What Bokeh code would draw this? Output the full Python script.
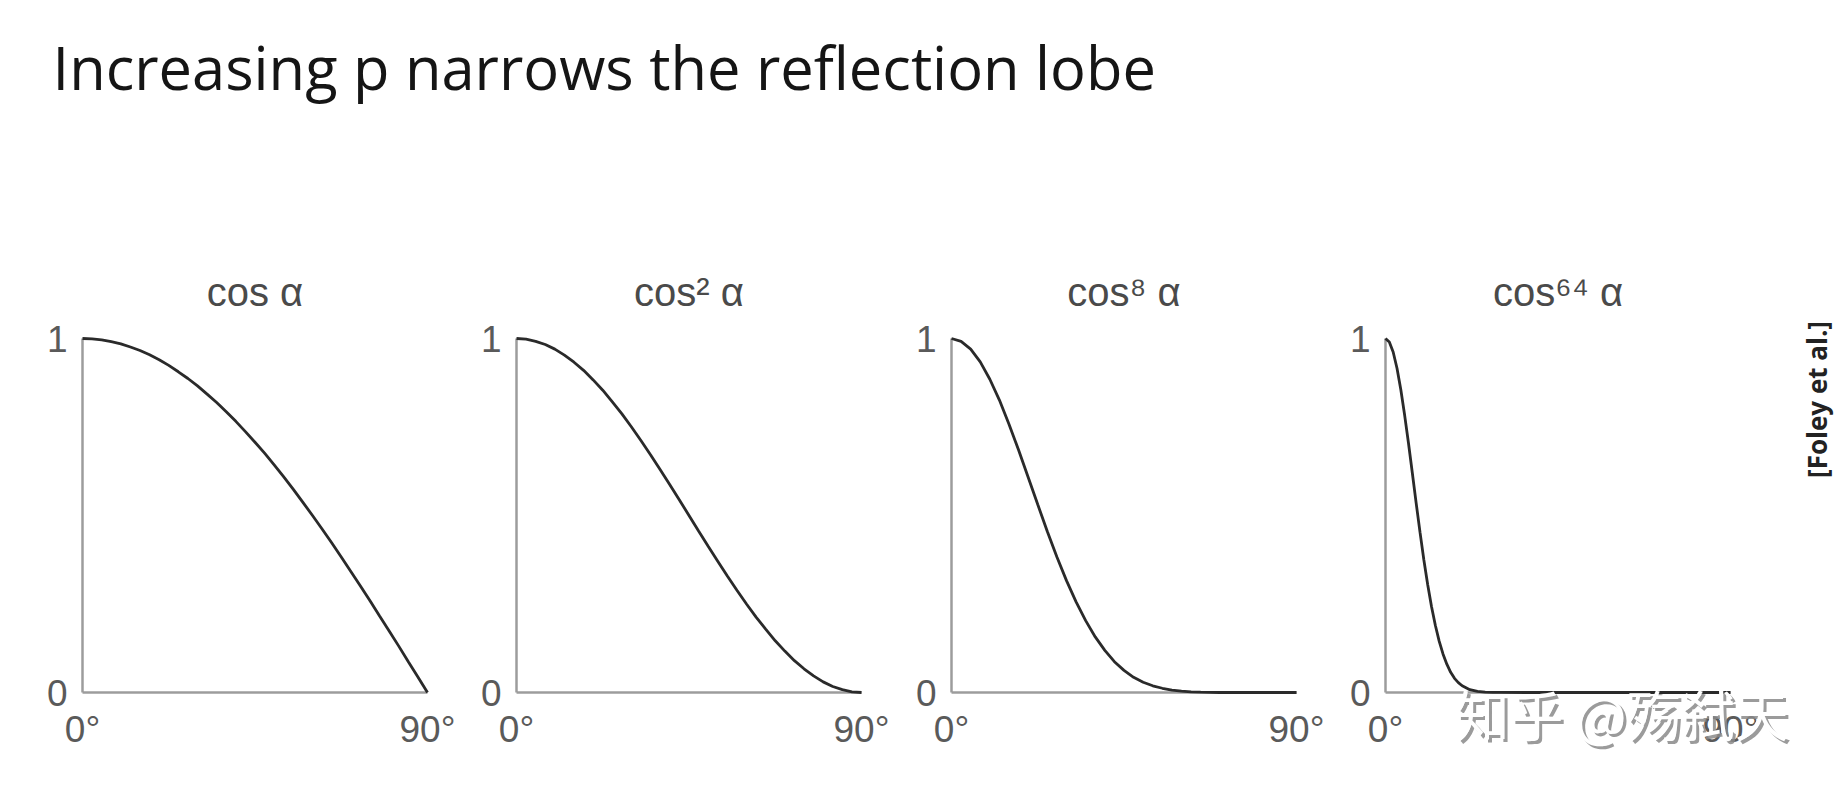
import math
from bokeh.plotting import figure
from bokeh.layouts import row, column
from bokeh.models import Range1d, FixedTicker, Label
from bokeh.embed import file_html
from bokeh.resources import INLINE

# ---------------- data ----------------
main_title = "Increasing p narrows the reflection lobe"
panel_titles = ["cos α", "cos² α", "cos⁸ α", "cos⁶⁴ α"]
credit = "[Foley et al.]"
watermark = "知乎 @殇弑天"

x_ticks = [0, 90]
x_tick_labels = ["0°", "90°"]
y_ticks = [0, 1]
y_tick_labels = ["0", "1"]

angle_a = [0, 2.5, 5, 7.5, 10, 12.5, 15, 17.5, 20, 22.5, 25, 27.5, 30, 32.5, 35, 37.5,
           40, 42.5, 45, 47.5, 50, 52.5, 55, 57.5, 60, 62.5, 65, 67.5, 70, 72.5, 75,
           77.5, 80, 82.5, 85, 87.5, 90]
lobe_p1 = [1.0, 0.999, 0.996, 0.991, 0.985, 0.976, 0.966, 0.954, 0.940, 0.924, 0.906,
           0.887, 0.866, 0.843, 0.819, 0.793, 0.766, 0.737, 0.707, 0.676, 0.643, 0.609,
           0.574, 0.537, 0.500, 0.462, 0.423, 0.383, 0.342, 0.301, 0.259, 0.216, 0.174,
           0.131, 0.087, 0.044, 0.0]
lobe_p2 = [1.0, 0.998, 0.992, 0.983, 0.970, 0.953, 0.933, 0.910, 0.883, 0.854, 0.821,
           0.787, 0.750, 0.711, 0.671, 0.629, 0.587, 0.544, 0.500, 0.456, 0.413, 0.371,
           0.329, 0.289, 0.250, 0.213, 0.179, 0.146, 0.117, 0.090, 0.067, 0.047, 0.030,
           0.017, 0.008, 0.002, 0.0]

angle_b = [0, 2.5, 5, 7.5, 10, 12.5, 15, 17.5, 20, 22.5, 25, 27.5, 30, 32.5, 35, 37.5,
           40, 42.5, 45, 47.5, 50, 52.5, 55, 57.5, 60, 62.5, 65, 67.5, 70, 75, 80, 85, 90]
lobe_p8 = [1.0, 0.992, 0.970, 0.934, 0.885, 0.826, 0.758, 0.685, 0.608, 0.531, 0.455,
           0.383, 0.316, 0.256, 0.203, 0.157, 0.119, 0.087, 0.0625, 0.043, 0.029, 0.019,
           0.012, 0.007, 0.004, 0.002, 0.001, 0.0005, 0.0, 0.0, 0.0, 0.0, 0.0]

angle_c = [0, 1, 2, 3, 4, 5, 6, 7, 8, 9, 10, 11, 12, 13, 14, 15, 16, 17, 18, 19, 20,
           22, 24, 26, 28, 30, 40, 50, 60, 70, 80, 90]
lobe_p64 = [1.0, 0.990, 0.962, 0.916, 0.855, 0.783, 0.704, 0.620, 0.535, 0.453, 0.375,
            0.305, 0.243, 0.190, 0.145, 0.109, 0.080, 0.057, 0.040, 0.028, 0.019,
            0.008, 0.003, 0.001, 0.0003, 0.0001, 0.0, 0.0, 0.0, 0.0, 0.0, 0.0]

series = [(angle_a, lobe_p1), (angle_a, lobe_p2), (angle_b, lobe_p8), (angle_c, lobe_p64)]

# ---------------- layout / style ----------------
TOP_H = 208
PANEL_H = 577
PX_X = 345 / 90.0          # pixels per degree
PX_Y = 354.0               # pixels per unit
FRAME_TOP = 250            # page y of frame top
ZERO_Y = 692               # page y of value 0
FRAME_BOTTOM = 750
fig_edges = [0, 470, 904, 1338, 1843]   # page x of the panel canvases
axis_xs = [82, 516, 951, 1385]          # page x of each vertical axis
Y0 = -(FRAME_BOTTOM - ZERO_Y) / PX_Y
Y1 = (ZERO_Y - FRAME_TOP) / PX_Y

TICK_FONT = "Liberation Sans"
TICK_COLOR = "#5a5a5a"
AXIS_COLOR = "#9c9c9c"
CURVE_COLOR = "#2a2a2a"

panels = []
for i, ((xs, ys), ttl) in enumerate(zip(series, panel_titles)):
    fl, fr, ax0 = fig_edges[i], fig_edges[i + 1], axis_xs[i]
    p = figure(width=fr - fl, height=PANEL_H,
               x_range=Range1d(-(ax0 - fl) / PX_X, (fr - ax0) / PX_X),
               y_range=Range1d(Y0, Y1),
               output_backend="svg", toolbar_location=None,
               min_border_left=0, min_border_right=0,
               min_border_top=FRAME_TOP - TOP_H,
               min_border_bottom=(TOP_H + PANEL_H) - FRAME_BOTTOM)
    p.grid.visible = False
    p.outline_line_color = None
    p.background_fill_color = "white"
    p.border_fill_color = "white"

    xa = p.xaxis[0]
    xa.ticker = FixedTicker(ticks=x_ticks)
    xa.major_label_overrides = {t: l for t, l in zip(x_ticks, x_tick_labels)}
    xa.bounds = (0, 90)
    xa.fixed_location = 0
    ya = p.yaxis[0]
    ya.ticker = FixedTicker(ticks=y_ticks)
    ya.major_label_overrides = {t: l for t, l in zip(y_ticks, y_tick_labels)}
    ya.bounds = (0, 1)
    ya.fixed_location = 0
    for ax in (xa, ya):
        ax.axis_line_color = AXIS_COLOR
        ax.axis_line_width = 2.5
        ax.major_tick_line_color = None
        ax.minor_tick_line_color = None
        ax.major_tick_in = 0
        ax.major_tick_out = 0
        ax.minor_tick_in = 0
        ax.minor_tick_out = 0
        ax.major_label_text_font = TICK_FONT
        ax.major_label_text_font_size = "37px"
        ax.major_label_text_color = TICK_COLOR
    xa.major_label_standoff = 16
    ya.major_label_standoff = 15

    r = p.line(xs, ys, line_color=CURVE_COLOR, line_width=2.8)
    r.level = "overlay"

    p.add_layout(Label(x=45, y=(ZERO_Y - 291) / PX_Y, text=ttl,
                       text_align="center", text_baseline="alphabetic",
                       text_font=TICK_FONT, text_font_size="40px",
                       text_color="#4a4a4a"))
    panels.append(p)

# credit and watermark on the last panel
p4 = panels[3]
p4.add_layout(Label(x=(1816 - 1385) / PX_X, y=(ZERO_Y - 399) / PX_Y, text=credit,
                    angle=math.pi / 2, text_align="center", text_baseline="middle",
                    text_font="Open Sans", text_font_style="bold",
                    text_font_size="26px", text_color="#222222"))
wm_x = (1455 - 1385) / PX_X
wm_y = (ZERO_Y - 713) / PX_Y
p4.add_layout(Label(x=wm_x, y=wm_y, x_offset=3, y_offset=-3, text=watermark,
                    text_align="left", text_baseline="middle", level="overlay",
                    text_font="Noto Sans CJK SC", text_font_size="54px",
                    text_color="#8a8a8a", text_alpha=0.85))
p4.add_layout(Label(x=wm_x, y=wm_y, text=watermark,
                    text_align="left", text_baseline="middle", level="overlay",
                    text_font="Noto Sans CJK SC", text_font_size="54px",
                    text_color="white"))

# title strip
TOP_W = fig_edges[-1]
top = figure(width=TOP_W, height=TOP_H, x_range=Range1d(0, TOP_W), y_range=Range1d(0, TOP_H),
             x_axis_type=None, y_axis_type=None,
             output_backend="svg", toolbar_location=None,
             min_border_left=0, min_border_right=0, min_border_top=0, min_border_bottom=0)
top.grid.visible = False
top.outline_line_color = None
top.add_layout(Label(x=52, y=TOP_H - 66, text=main_title,
                     text_align="left", text_baseline="alphabetic",
                     text_font="Open Sans", text_font_size="59.6px",
                     text_color="#151515"))

layout = column(top, row(*panels, spacing=0), spacing=0)
open("out.html", "w").write(file_html(layout, INLINE))
